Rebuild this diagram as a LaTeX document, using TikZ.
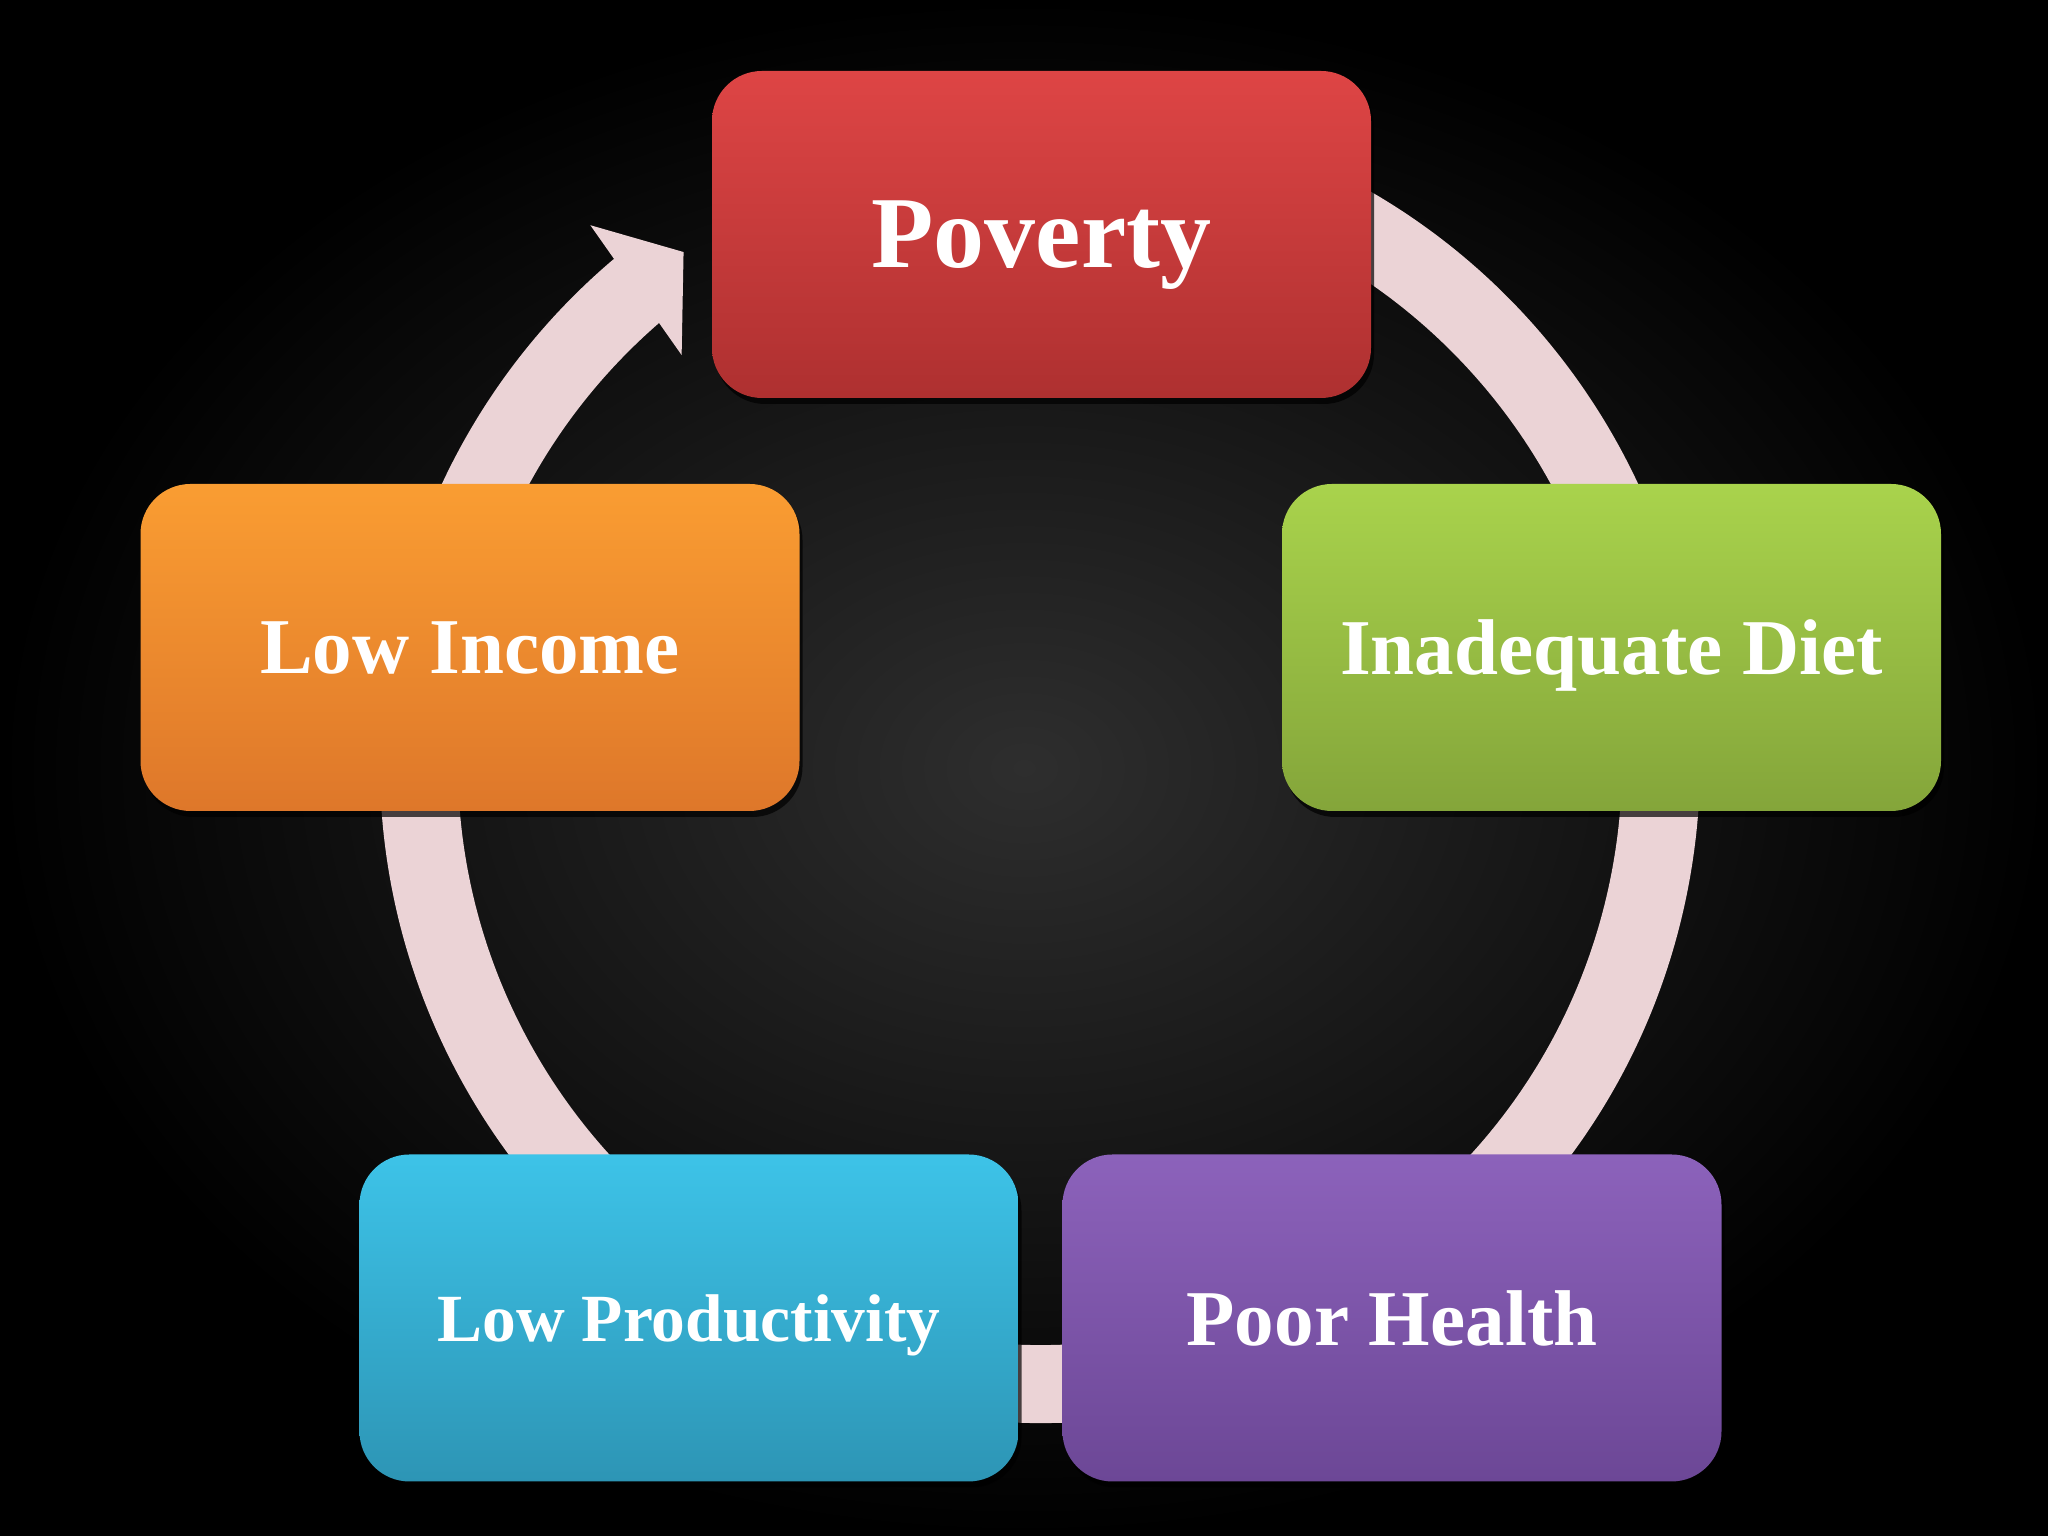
\documentclass[tikz,border=0pt]{standalone}
\usepackage{fontspec}
\setmainfont{Liberation Serif}
\usetikzlibrary{shadows}

\definecolor{ringpink}{HTML}{EBD3D6}
\definecolor{bggray}{HTML}{2E2E2E}
\definecolor{povtop}{HTML}{DE4545}
\definecolor{povbot}{HTML}{AE3030}
\definecolor{diettop}{HTML}{A9D34C}
\definecolor{dietbot}{HTML}{84A53A}
\definecolor{inctop}{HTML}{FA9D32}
\definecolor{incbot}{HTML}{DE772A}
\definecolor{prodtop}{HTML}{3DC3E8}
\definecolor{prodbot}{HTML}{2D95B5}
\definecolor{healthtop}{HTML}{8C62BB}
\definecolor{healthbot}{HTML}{6C4796}

\begin{document}
\begin{tikzpicture}[
  cyclebox/.style={rounded corners=0.5cm, minimum width=6.59cm, minimum height=3.27cm,
    inner sep=0pt, text depth=0pt, text=white, font=\bfseries\fontsize{22.5}{27}\selectfont,
    drop shadow={fill=black, opacity=0.7, shadow xshift=0.03cm, shadow yshift=-0.06cm}},
  ring/.style={ringpink, line width=0.78cm}
]

\useasboundingbox (0,0) rectangle (20.48,15.36) ;
\shade[inner color=bggray, outer color=black] (0,0) rectangle (20.48,15.36) ;

\coordinate (c) at (10.40,7.73) ;

% the cycle ring and its head
\draw[ring] ([shift={(80:6.21)}]c) arc[start angle=80, end angle=-230, radius=6.21] ;
\fill[ringpink, shift={(c)}] (129.9:7.01) -- (124.9:6.23) -- (131.3:5.43) -- cycle ;

\node[cyclebox, top color=povtop, bottom color=povbot, font=\bfseries\fontsize{29}{34}\selectfont] (poverty) at (10.415,13.015) {Poverty} ;
\node[cyclebox, top color=diettop, bottom color=dietbot] (diet) at (16.115,8.885) {Inadequate Diet} ;
\node[cyclebox, top color=healthtop, bottom color=healthbot] (health) at (13.92,2.18) {Poor Health} ;
\node[cyclebox, top color=prodtop, bottom color=prodbot, font=\bfseries\fontsize{19.2}{23}\selectfont] (productivity) at (6.89,2.18) {Low Productivity} ;
\node[cyclebox, top color=inctop, bottom color=incbot] (income) at (4.70,8.885) {Low Income} ;

\end{tikzpicture}
\end{document}
